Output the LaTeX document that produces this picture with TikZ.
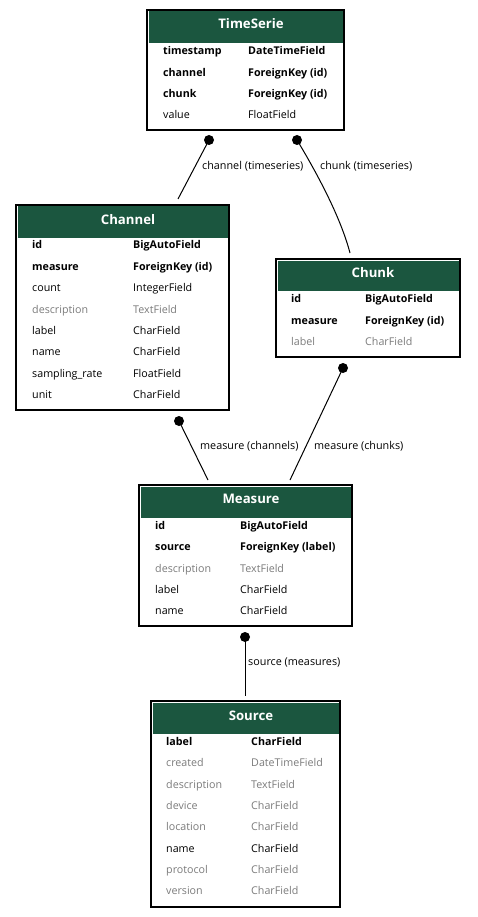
\documentclass[tikz,border=0pt]{standalone}
\usepackage{fontspec}
\setmainfont{Open Sans}
\definecolor{hdr}{HTML}{1B563F}
\definecolor{dim}{HTML}{7B7B7B}
\tikzset{
  tbl/.style={draw=black, line width=1.3pt, inner sep=0pt},
  ttl/.style={text=white, font=\bfseries\fontsize{13.2}{15}\selectfont, inner sep=0pt},
  fld/.style={anchor=mid west, inner sep=0pt, yshift=-1pt, font=\fontsize{10.7}{12}\selectfont},
  key/.style={fld, font=\bfseries\fontsize{10.7}{12}\selectfont},
  opt/.style={fld, text=dim},
  rel/.style={line width=1pt},
  dotend/.style={fill=black, circle, inner sep=0pt, minimum size=10pt},
  rlbl/.style={anchor=mid west, inner sep=0pt, yshift=-0.5pt, font=\fontsize{10.8}{12}\selectfont},
}
\begin{document}
\begin{tikzpicture}[x=1pt,y=-1pt]
\useasboundingbox (0,0) rectangle (477,917);

% ---------- TimeSerie
\fill[hdr] (148.5,11.5) rectangle (342.5,43);
\node[tbl, minimum width=197pt, minimum height=120pt] (ts) at (245.5,70) {};
\node[ttl] (ts-t) at (251,24) {TimeSerie};
\node[key] (ts-r1a) at (163,51) {timestamp};   \node[key] (ts-r1b) at (248,51) {DateTimeField};
\node[key] (ts-r2a) at (163,73) {channel};     \node[key] (ts-r2b) at (248,73) {ForeignKey (id)};
\node[key] (ts-r3a) at (163,94) {chunk};       \node[key] (ts-r3b) at (248,94) {ForeignKey (id)};
\node[fld] (ts-r4a) at (163,115) {value};      \node[fld] (ts-r4b) at (248,115) {FloatField};

% ---------- Channel
\fill[hdr] (17.5,206.5) rectangle (227.5,238);
\node[tbl, minimum width=213pt, minimum height=205pt] (ch) at (122.5,307.5) {};
\node[ttl] (ch-t) at (128,220) {Channel};
\node[key] (ch-r1a) at (32,245) {id};            \node[key] (ch-r1b) at (133,245) {BigAutoField};
\node[key] (ch-r2a) at (32,267) {measure};       \node[key] (ch-r2b) at (133,267) {ForeignKey (id)};
\node[fld] (ch-r3a) at (32,288) {count};         \node[fld] (ch-r3b) at (133,288) {IntegerField};
\node[opt] (ch-r4a) at (32,310) {description};   \node[opt] (ch-r4b) at (133,310) {TextField};
\node[fld] (ch-r5a) at (32,331) {label};         \node[fld] (ch-r5b) at (133,331) {CharField};
\node[fld] (ch-r6a) at (32,352) {name};          \node[fld] (ch-r6b) at (133,352) {CharField};
\node[fld] (ch-r7a) at (32,374) {sampling\_rate}; \node[fld] (ch-r7b) at (133,374) {FloatField};
\node[fld] (ch-r8a) at (32,395) {unit};          \node[fld] (ch-r8b) at (133,395) {CharField};

% ---------- Chunk
\fill[hdr] (277.5,260.5) rectangle (458.5,291);
\node[tbl, minimum width=184pt, minimum height=98pt] (ck) at (368,308) {};
\node[ttl] (ck-t) at (373,273) {Chunk};
\node[key] (ck-r1a) at (291,299) {id};        \node[key] (ck-r1b) at (365,299) {BigAutoField};
\node[key] (ck-r2a) at (291,321) {measure};   \node[key] (ck-r2b) at (365,321) {ForeignKey (id)};
\node[opt] (ck-r3a) at (291,342) {label};     \node[opt] (ck-r3b) at (365,342) {CharField};

% ---------- Measure
\fill[hdr] (140.5,486.5) rectangle (350.5,518);
\node[tbl, minimum width=213pt, minimum height=141pt] (me) at (245.5,555.5) {};
\node[ttl] (me-t) at (251,499) {Measure};
\node[key] (me-r1a) at (155,526) {id};           \node[key] (me-r1b) at (240,526) {BigAutoField};
\node[key] (me-r2a) at (155,547) {source};       \node[key] (me-r2b) at (240,547) {ForeignKey (label)};
\node[opt] (me-r3a) at (155,569) {description};  \node[opt] (me-r3b) at (240,569) {TextField};
\node[fld] (me-r4a) at (155,590) {label};        \node[fld] (me-r4b) at (240,590) {CharField};
\node[fld] (me-r5a) at (155,611) {name};         \node[fld] (me-r5b) at (240,611) {CharField};

% ---------- Source
\fill[hdr] (152.5,702.5) rectangle (338.5,734);
\node[tbl, minimum width=189pt, minimum height=206pt] (so) at (245.5,804) {};
\node[ttl] (so-t) at (251,716) {Source};
\node[key] (so-r1a) at (166,742) {label};        \node[key] (so-r1b) at (251,742) {CharField};
\node[opt] (so-r2a) at (166,763) {created};      \node[opt] (so-r2b) at (251,763) {DateTimeField};
\node[opt] (so-r3a) at (166,785) {description};  \node[opt] (so-r3b) at (251,785) {TextField};
\node[opt] (so-r4a) at (166,806) {device};       \node[opt] (so-r4b) at (251,806) {CharField};
\node[opt] (so-r5a) at (166,827) {location};     \node[opt] (so-r5b) at (251,827) {CharField};
\node[fld] (so-r6a) at (166,849) {name};         \node[fld] (so-r6b) at (251,849) {CharField};
\node[opt] (so-r7a) at (166,870) {protocol};     \node[opt] (so-r7b) at (251,870) {CharField};
\node[opt] (so-r8a) at (166,891) {version};      \node[opt] (so-r8b) at (251,891) {CharField};

% ---------- Relations
\node[dotend] (d1) at (209,140) {};
\node[dotend] (d2) at (297,140) {};
\node[dotend] (d3) at (179,421) {};
\node[dotend] (d4) at (343,368) {};
\node[dotend] (d5) at (245,637) {};
\coordinate (e1) at (178,199);
\coordinate (e2) at (350,253);
\coordinate (e3) at (208,480);
\coordinate (e4) at (290,480);
\coordinate (e5) at (245,696);

\draw[rel] (d1.center) -- (e1);
\draw[rel] (d2.center) .. controls (315,170) and (340,215) .. (e2);
\draw[rel] (d3.center) -- (e3);
\draw[rel] (d4.center) -- (e4);
\draw[rel] (d5.center) -- (e5);

\node[rlbl] (l1) at (202,166) {channel (timeseries)};
\node[rlbl] (l2) at (320,166) {chunk (timeseries)};
\node[rlbl] (l3) at (200,446) {measure (channels)};
\node[rlbl] (l4) at (314,446) {measure (chunks)};
\node[rlbl] (l5) at (248,662) {source (measures)};
\end{tikzpicture}
\end{document}
